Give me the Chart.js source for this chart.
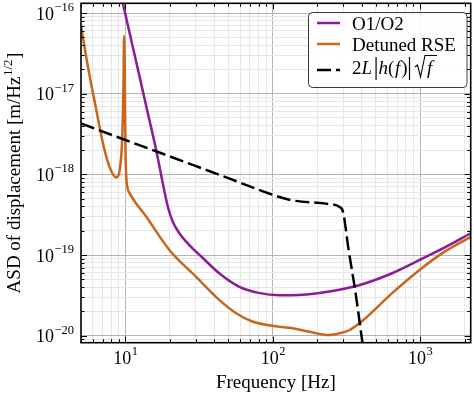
<!DOCTYPE html>
<html>
<head>
<meta charset="utf-8">
<script src="https://cdn.jsdelivr.net/npm/chart.js@4/dist/chart.umd.min.js"></script>
<style>
  html, body { margin: 0; padding: 0; background: #fff; }
  canvas { display: block; }
</style>
</head>
<body>
<canvas id="asdChart" width="474" height="397"></canvas>
<script>
// O1/O2 displacement noise
const freqO1 = [9, 9.63, 12, 14, 16.2, 17.97, 19.43, 21.0, 23.3, 27.25, 33.5, 43.5, 59.4, 80, 110.9, 135.8, 229.6, 385, 645, 984, 1489, 2200];
const asdO1 = [2.2e-16, 1.3e-16, 2.23e-17, 6.44e-18, 1.98e-18, 7.67e-19, 3.94e-19, 2.57e-19, 1.85e-19, 1.32e-19, 9.2e-20, 5.9e-20, 4.03e-20, 3.4e-20, 3.18e-20, 3.18e-20, 3.49e-20, 4.23e-20, 5.95e-20, 8.63e-20, 1.26e-19, 1.86e-19];

// Detuned RSE
const freqRSE = [5, 5.58, 6.36, 7.05, 7.83, 8.69, 9.2, 9.5, 9.7, 9.8, 9.9, 10.0, 10.15, 10.7, 13.9, 19.95, 30.2, 43.5, 56.4, 72.7, 110.9, 135.8, 177.5, 241, 282, 330, 404, 645, 984, 1407, 2200];
const asdRSE = [6.98e-17, 2.13e-17, 6.2e-18, 2.42e-18, 1.22e-18, 9.18e-19, 1.22e-18, 2.64e-18, 1.2e-17, 5.2e-17, 2e-17, 2.5e-18, 9e-19, 5.82e-19, 2.96e-19, 1.15e-19, 5.36e-20, 2.76e-20, 1.9e-20, 1.5e-20, 1.29e-20, 1.24e-20, 1.12e-20, 1.02e-20, 1.07e-20, 1.17e-20, 1.52e-20, 3.37e-20, 6.49e-20, 1.05e-19, 1.68e-19];

// 2L|h(f)|sqrt(f)
const freqH = [5, 10, 20, 50, 110.9, 135.8, 229.6, 284, 300, 327, 362, 406, 440];
const asdH = [4.28e-18, 2.67e-18, 1.67e-18, 8.97e-19, 5.24e-19, 4.76e-19, 4.34e-19, 3.94e-19, 3.39e-19, 1.15e-19, 3.67e-20, 8.1e-21, 2.9e-21];

// axis ranges and labelled decades
const xRange = [5, 2200];
const yRange = [8.2e-21, 1.32e-16];
const xTickLabels = [10, 100, 1000];
const yTickLabels = [1e-20, 1e-19, 1e-18, 1e-17, 1e-16];

const SERIF = '"Liberation Serif", "DejaVu Serif", serif';
const PURPLE = '#8c1b96';
const ORANGE = '#c9661a';

function pairs(xs, ys) {
    return xs.map((x, i) => ({x: x, y: ys[i]}));
}

// all 1..9 x 10^n positions inside a range
function logTicks(lo, hi) {
    const out = [];
    for (let e = Math.floor(Math.log10(lo)); e <= Math.ceil(Math.log10(hi)); e++) {
        for (let m = 1; m < 10; m++) {
            const v = m * Math.pow(10, e);
            if (v >= lo * 0.999 && v <= hi * 1.001) out.push(v);
        }
    }
    return out;
}

function isDecade(v) {
    const l = Math.log10(v);
    return Math.abs(l - Math.round(l)) < 1e-6;
}

function gridColor(ctx) {
    if (!ctx.tick) return 'rgba(0,0,0,0)';
    return isDecade(ctx.tick.value) ? '#b4b4b4' : '#e6e6e6';
}

// "10" with a superscript exponent
function powerLabel(ctx, v, x, y, align) {
    const e = Math.round(Math.log10(v));
    const sup = (e < 0 ? '\u2212' : '') + Math.abs(e);
    ctx.font = '18px ' + SERIF;
    const wBase = ctx.measureText('10').width;
    ctx.font = '12.5px ' + SERIF;
    const wSup = ctx.measureText(sup).width;
    let left = align === 'right' ? x - wBase - wSup - 0.5 : x - (wBase + wSup) / 2;
    ctx.textAlign = 'left';
    ctx.textBaseline = 'alphabetic';
    ctx.font = '18px ' + SERIF;
    ctx.fillText('10', left, y);
    ctx.font = '12.5px ' + SERIF;
    ctx.fillText(sup, left + wBase + 0.5, y - 8.5);
}

const framePlugin = {
    id: 'frame',
    afterDatasetsDraw(chart) {
        const ctx = chart.ctx;
        const a = chart.chartArea;
        const xs = chart.scales.x;
        const ys = chart.scales.y;
        ctx.save();
        ctx.strokeStyle = '#000';

        // inward ticks on all four sides
        ctx.lineWidth = 1;
        xs.ticks.forEach(t => {
            const px = Math.round(xs.getPixelForValue(t.value)) + 0.5;
            const len = isDecade(t.value) ? 6 : 3.5;
            ctx.beginPath();
            ctx.moveTo(px, a.bottom); ctx.lineTo(px, a.bottom - len);
            ctx.moveTo(px, a.top); ctx.lineTo(px, a.top + len);
            ctx.stroke();
        });
        ys.ticks.forEach(t => {
            const py = Math.round(ys.getPixelForValue(t.value)) + 0.5;
            const len = isDecade(t.value) ? 6 : 3.5;
            ctx.beginPath();
            ctx.moveTo(a.left, py); ctx.lineTo(a.left + len, py);
            ctx.moveTo(a.right, py); ctx.lineTo(a.right - len, py);
            ctx.stroke();
        });

        // frame
        ctx.lineWidth = 1.6;
        ctx.strokeRect(a.left, a.top, a.right - a.left, a.bottom - a.top);

        // tick labels
        ctx.fillStyle = '#000';
        xTickLabels.forEach(v => {
            powerLabel(ctx, v, xs.getPixelForValue(v), a.bottom + 21, 'center');
        });
        yTickLabels.forEach(v => {
            powerLabel(ctx, v, a.left - 7, ys.getPixelForValue(v) + 6.5, 'right');
        });

        // axis titles
        ctx.font = '19px ' + SERIF;
        ctx.textAlign = 'center';
        ctx.textBaseline = 'alphabetic';
        ctx.fillText('Frequency [Hz]', (a.left + a.right) / 2, 388);

        ctx.save();
        ctx.translate(20, (a.top + a.bottom) / 2);
        ctx.rotate(-Math.PI / 2);
        const t1 = 'ASD of displacement [m/Hz';
        const t2 = ']';
        ctx.font = '19px ' + SERIF;
        const w1 = ctx.measureText(t1).width;
        const w2 = ctx.measureText(t2).width;
        ctx.font = '13px ' + SERIF;
        const ws = ctx.measureText('1/2').width;
        let sx = -(w1 + ws + w2 + 1) / 2;
        ctx.textAlign = 'left';
        ctx.font = '19px ' + SERIF;
        ctx.fillText(t1, sx, 0);
        ctx.font = '13px ' + SERIF;
        ctx.fillText('1/2', sx + w1 + 0.5, -8);
        ctx.font = '19px ' + SERIF;
        ctx.fillText(t2, sx + w1 + ws + 1, 0);
        ctx.restore();

        drawLegend(ctx);
        ctx.restore();
    }
};

function drawLegend(ctx) {
    ctx.save();
    ctx.beginPath();
    ctx.roundRect(308.5, 12.5, 158.5, 75, 4);
    ctx.fillStyle = 'rgba(255,255,255,0.85)';
    ctx.fill();
    ctx.strokeStyle = '#3a3a3a';
    ctx.lineWidth = 1;
    ctx.stroke();

    const rows = [23, 44, 70];
    ctx.lineWidth = 2.5;
    ctx.strokeStyle = PURPLE;
    ctx.beginPath(); ctx.moveTo(317, rows[0]); ctx.lineTo(340, rows[0]); ctx.stroke();
    ctx.strokeStyle = ORANGE;
    ctx.beginPath(); ctx.moveTo(317, rows[1]); ctx.lineTo(340, rows[1]); ctx.stroke();
    ctx.strokeStyle = '#000';
    ctx.setLineDash([14, 5]);
    ctx.beginPath(); ctx.moveTo(317, rows[2]); ctx.lineTo(340, rows[2]); ctx.stroke();
    ctx.setLineDash([]);

    ctx.fillStyle = '#000';
    ctx.textAlign = 'left';
    ctx.textBaseline = 'alphabetic';
    ctx.font = '19px ' + SERIF;
    ctx.fillText('O1/O2', 352, rows[0] + 6.5);
    ctx.fillText('Detuned RSE', 352, rows[1] + 6.5);

    // 2L |h(f)| sqrt(f)
    const b = rows[2] + 4;
    const it = 'italic 19px ' + SERIF;
    const rm = '19px ' + SERIF;
    let x = 352;
    ctx.font = rm; ctx.fillText('2', x, b); x += ctx.measureText('2').width;
    ctx.font = it; ctx.fillText('L', x, b); x += ctx.measureText('L').width + 4;
    ctx.lineWidth = 1.2;
    ctx.beginPath(); ctx.moveTo(x, b - 17); ctx.lineTo(x, b + 6); ctx.stroke();
    x += 2.5;
    ctx.font = it; ctx.fillText('h', x, b); x += ctx.measureText('h').width;
    ctx.font = rm; ctx.fillText('(', x, b); x += ctx.measureText('(').width;
    ctx.font = it; ctx.fillText('f', x + 0.5, b); x += ctx.measureText('f').width + 1.5;
    ctx.font = rm; ctx.fillText(')', x, b); x += ctx.measureText(')').width + 2;
    ctx.beginPath(); ctx.moveTo(x, b - 17); ctx.lineTo(x, b + 6); ctx.stroke();
    x += 5.5;
    // radical sign
    ctx.lineWidth = 1.1;
    ctx.beginPath();
    ctx.moveTo(x, b - 7);
    ctx.lineTo(x + 2.5, b - 9);
    ctx.lineTo(x + 5.5, b + 3);
    ctx.lineTo(x + 10, b - 18.5);
    ctx.lineTo(x + 22, b - 18.5);
    ctx.stroke();
    ctx.font = it; ctx.fillText('f', x + 12, b);
    ctx.restore();
}

document.addEventListener('DOMContentLoaded', function () {
    const ctx = document.getElementById('asdChart').getContext('2d');

    const lineStyle = {
        pointRadius: 0,
        borderWidth: 2.5,
        cubicInterpolationMode: 'monotone',
        fill: false
    };

    new Chart(ctx, {
        type: 'line',
        data: {
            datasets: [
                Object.assign({label: 'O1/O2', data: pairs(freqO1, asdO1), borderColor: PURPLE, order: 3}, lineStyle),
                Object.assign({label: 'Detuned RSE', data: pairs(freqRSE, asdRSE), borderColor: ORANGE, order: 2}, lineStyle),
                Object.assign({label: '2L|h(f)|sqrt(f)', data: pairs(freqH, asdH), borderColor: '#000', borderDash: [14, 5], order: 1}, lineStyle)
            ]
        },
        options: {
            responsive: false,
            animation: false,
            devicePixelRatio: 1,
            layout: { padding: { top: 3.3, right: 3.3, left: 0, bottom: 0 } },
            plugins: { legend: { display: false }, tooltip: { enabled: false } },
            scales: {
                x: {
                    type: 'logarithmic',
                    min: xRange[0],
                    max: xRange[1],
                    afterBuildTicks: s => { s.ticks = logTicks(xRange[0], xRange[1]).map(v => ({value: v})); },
                    afterFit: s => { s.height = 54.3; },
                    ticks: { display: false },
                    border: { display: false },
                    grid: { color: gridColor, lineWidth: 1, drawTicks: false }
                },
                y: {
                    type: 'logarithmic',
                    min: yRange[0],
                    max: yRange[1],
                    afterBuildTicks: s => { s.ticks = logTicks(yRange[0], yRange[1]).map(v => ({value: v})); },
                    afterFit: s => { s.width = 81; },
                    ticks: { display: false },
                    border: { display: false },
                    grid: { color: gridColor, lineWidth: 1, drawTicks: false }
                }
            }
        },
        plugins: [framePlugin]
    });
});
</script>
</body>
</html>
